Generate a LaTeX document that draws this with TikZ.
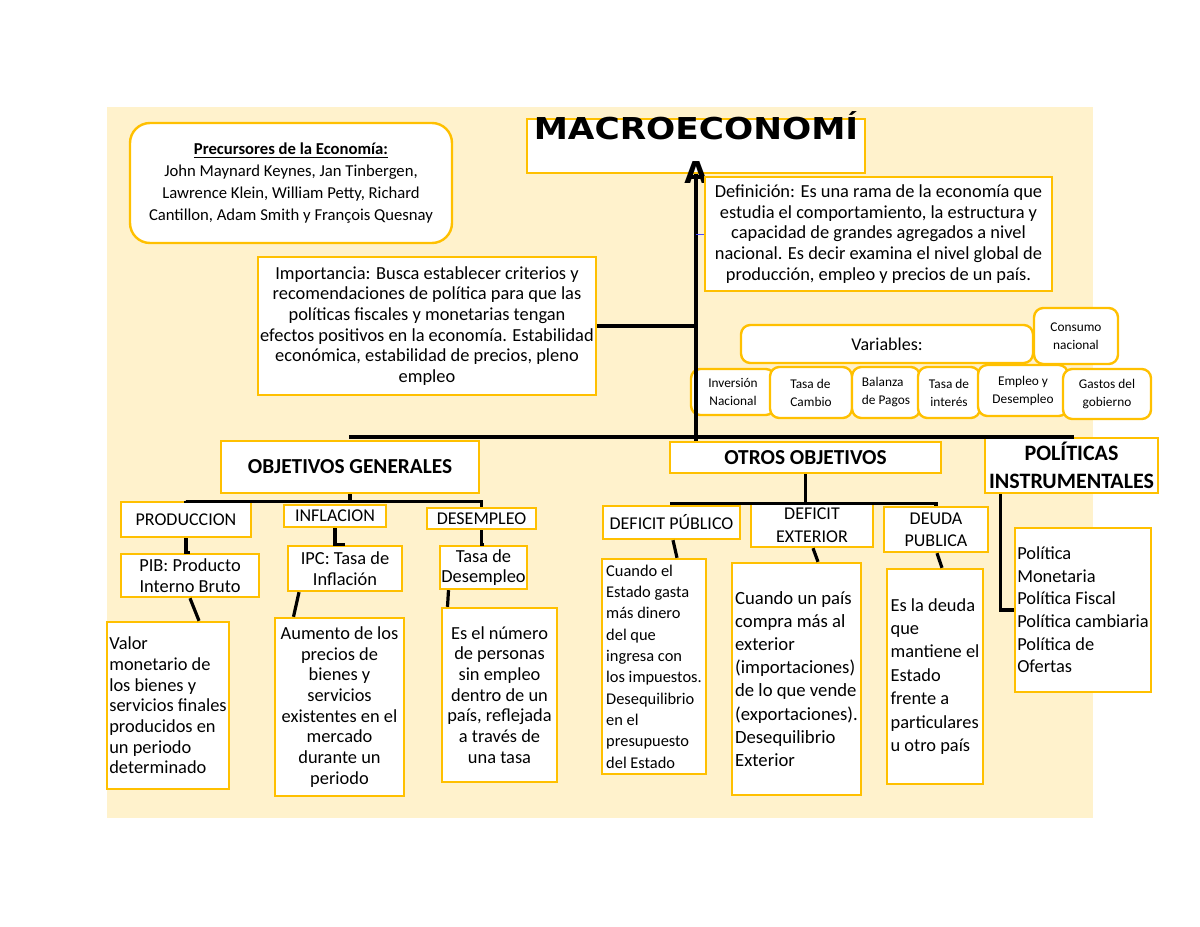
\documentclass[tikz,border=0pt]{standalone}
\usepackage{fontspec}
\setmainfont{Carlito}
\newfontfamily\titlefont{DejaVu Sans}
\usetikzlibrary{calc}
\definecolor{cream}{RGB}{255,242,204}
\definecolor{gold}{RGB}{255,192,0}

\begin{document}
\begin{tikzpicture}[x=0.75pt, y=-0.75pt,
    box/.style={draw=gold, line width=1.8pt, fill=white, inner sep=1pt, align=center},
    rbox/.style={box, rounded corners=7pt},
    link/.style={line width=2.4pt, black},
    big/.style={font=\fontsize{13.8}{15.5}\selectfont},
    small/.style={font=\fontsize{10}{13.5}\selectfont},
    caps/.style={font=\fontsize{13.5}{16.5}\selectfont},
    head/.style={font=\bfseries\fontsize{16}{20}\selectfont}]
    \fill[white] (0,0) rectangle (1200,927);
    \useasboundingbox (0,0) rectangle (1200,927);
    \fill[cream] (107,107) rectangle (1093,818);

    \node[box, minimum width=253.5pt, minimum height=40.5pt] (title) at (696,146) {};
    \node[font=\titlefont\bfseries\fontsize{22.6}{33}\selectfont, align=center] (titletxt) at (696,148)
        {\scalebox{1.14}[1]{MACROECONOMÍ}\\A};
    \node[box, rounded corners=15pt, minimum width=241.5pt, minimum height=90pt,
          font=\fontsize{12.5}{16.3}\selectfont] (prec) at (291,183)
        {\textbf{\underline{Precursores de la Economía:}}\\John Maynard Keynes, Jan Tinbergen,\\Lawrence Klein, William Petty, Richard\\Cantillon, Adam Smith y François Quesnay};
    \node[box, big, minimum width=260.25pt, minimum height=85.5pt] (def) at (878.5,234)
        {Definición: Es una rama de la economía que\\estudia el comportamiento, la estructura y\\capacidad de grandes agregados a nivel\\nacional. Es decir examina el nivel global de\\producción, empleo y precios de un país.};
    \node[box, big, minimum width=253.5pt, minimum height=103.5pt] (imp) at (427,326)
        {Importancia: Busca establecer criterios y\\recomendaciones de política para que las\\políticas fiscales y monetarias tengan\\efectos positivos en la economía. Estabilidad\\económica, estabilidad de precios, pleno\\empleo};

    \node[rbox, font=\fontsize{13.5}{15}\selectfont, minimum width=219pt, minimum height=28.5pt] (vars) at (887,344) {Variables:};
    \node[rbox, small, minimum width=63pt, minimum height=42pt] (consumo) at (1076,336) {Consumo\\nacional};
    \node[rbox, small, minimum width=63pt, minimum height=34.5pt] (inv) at (733,392) {Inversión\\Nacional};
    \node[rbox, small, align=left, minimum width=61.5pt, minimum height=38.25pt] (tcambio) at (811,392.5) {Tasa de\\Cambio};
    \node[rbox, small, align=left, minimum width=51pt, minimum height=38.25pt] (balanza) at (886,392.5) {Balanza\\de Pagos};
    \node[rbox, small, minimum width=46.5pt, minimum height=38.25pt] (tinteres) at (949,392.5) {Tasa de\\interés};
    \node[rbox, small, minimum width=67.5pt, minimum height=38.25pt] (empleo) at (1023,390.5) {Empleo y\\Desempleo};
    \node[rbox, small, minimum width=66pt, minimum height=37.5pt] (gastos) at (1107,394) {Gastos del\\gobierno};

    \node[box, head, minimum width=193.5pt, minimum height=39pt] (og) at (350,467) {OBJETIVOS GENERALES};
    \node[box, head, minimum width=203.25pt, minimum height=23.25pt] (otros) at (805.5,457.5) {OTROS OBJETIVOS};
    \node[box, head, font=\bfseries\fontsize{16.5}{21}\selectfont, minimum width=129.75pt, minimum height=41.25pt] (polit) at (1071.5,465.5) {POLÍTICAS\\INSTRUMENTALES};

    \node[box, caps, minimum width=97.5pt, minimum height=26.25pt] (prod) at (186,519.5) {PRODUCCION};
    \node[box, caps, minimum width=76.5pt, minimum height=16.5pt] (infl) at (335,516) {INFLACION};
    \node[box, caps, minimum width=81.75pt, minimum height=15.75pt] (desem) at (481.5,518.5) {DESEMPLEO};
    \node[box, big, minimum width=103.5pt, minimum height=32.25pt] (pib) at (190,575.5) {PIB: Producto\\Interno Bruto};
    \node[box, big, minimum width=85.5pt, minimum height=33.75pt] (ipc) at (345,568.5) {IPC: Tasa de\\Inflación};
    \node[box, big, minimum width=65.25pt, minimum height=32.25pt] (tasad) at (483.5,567.5) {Tasa de\\Desempleo};
    \node[box, big, align=left, minimum width=91.5pt, minimum height=125.25pt] (valor) at (168,705.5)
        {Valor\\monetario de\\los bienes y\\servicios finales\\producidos en\\un periodo\\determinado};
    \node[box, big, minimum width=96.75pt, minimum height=133.5pt] (aumento) at (339.5,707)
        {Aumento de los\\precios de\\bienes y\\servicios\\existentes en el\\mercado\\durante un\\periodo};
    \node[box, big, minimum width=86.25pt, minimum height=130.5pt] (esel) at (499.5,695)
        {Es el número\\de personas\\sin empleo\\dentro de un\\país, reflejada\\a través de\\una tasa};

    \node[box, caps, minimum width=102.75pt, minimum height=24.75pt] (dpub) at (671.5,522.5) {DEFICIT PÚBLICO};
    \node[box, font=\fontsize{13.5}{17}\selectfont, minimum width=91.5pt, minimum height=32.25pt] (dext) at (812,525.5) {DEFICIT\\EXTERIOR};
    \node[box, font=\fontsize{13.5}{16.5}\selectfont, minimum width=78pt, minimum height=33.75pt] (deuda) at (936,529.5) {DEUDA\\PUBLICA};
    \node[box, align=left, font=\fontsize{12.3}{16}\selectfont, minimum width=78pt, minimum height=161.25pt] (cuandoel) at (654,666.5)
        {Cuando el\\Estado gasta\\más dinero\\del que\\ingresa con\\los impuestos.\\Desequilibrio\\en el\\presupuesto\\del Estado};
    \node[box, align=left, font=\fontsize{14}{17.3}\selectfont, minimum width=96.75pt, minimum height=174pt] (cuandoun) at (796.5,679)
        {Cuando un país\\compra más al\\exterior\\(importaciones)\\de lo que vende\\(exportaciones).\\Desequilibrio\\Exterior};
    \node[box, align=left, font=\fontsize{13.8}{17.6}\selectfont, minimum width=72pt, minimum height=161.25pt] (esla) at (935,676.5)
        {Es la deuda\\que\\mantiene el\\Estado\\frente a\\particulares\\u otro país};
    \node[box, align=left, font=\fontsize{13.8}{17}\selectfont, minimum width=102pt, minimum height=123pt] (plist) at (1083,610)
        {Política\\Monetaria\\Política Fiscal\\Política cambiaria\\Política de\\Ofertas};

    \coordinate (busL) at (349,437);
    \coordinate (busR) at (1074,437);
    \draw[link] (title.south) -- (title.south |- otros.north);
    \draw[link] (busL) -- (busR);
    \draw[link] (imp.east) -- (imp.east -| title.south);
    \draw[blue!70, line width=0.6pt] (def.west) -- (def.west -| title.south);

    \draw[link] (og.south) -- ++(0,7) coordinate (ogb);
    \draw[link] (prod.north) |- (ogb) -| (desem.north);
    \draw[link] (prod.south) |- (pib.north);
    \draw[link] (infl.south) |- (ipc.north);
    \draw[link] (desem.south) |- (tasad.north);
    \draw[link] (pib.south) -- ($(valor.north)+(31,0)$);
    \draw[link] ($(ipc.south)+(-46,0)$) -- ($(aumento.north)+(-46,0)$);
    \draw[link] ($(tasad.south)+(-35,0)$) -- ($(esel.north)+(-52,0)$);

    \draw[link] (otros.south) -- ++(0,29) coordinate (otb);
    \draw[link] (dpub.north) |- (otb) -| (deuda.north);
    \draw[link] ($(dpub.south)+(1.5,0)$) -- ($(cuandoel.north)+(23,0)$);
    \draw[link] ($(dext.south)+(1,0)$) -- ($(cuandoun.north)+(21.5,0)$);
    \draw[link] ($(deuda.south)+(1,0)$) -- ($(esla.north)+(7,0)$);
    \draw[link] ($(polit.south west)+(17,0)$) |- (plist.west);
\end{tikzpicture}
\end{document}
